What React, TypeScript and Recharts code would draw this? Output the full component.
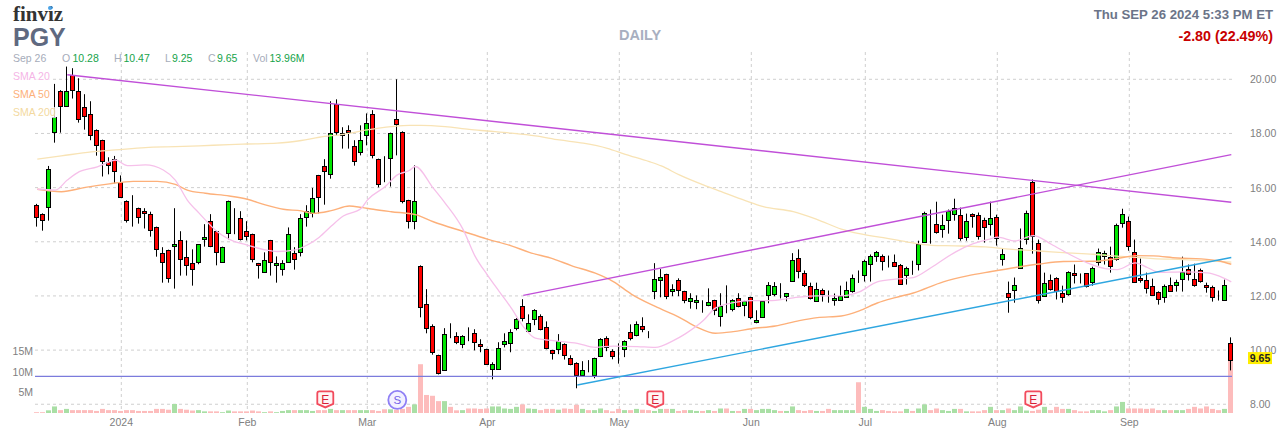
import { Bar, CartesianGrid, ComposedChart, Line, ReferenceDot, ReferenceLine, XAxis, YAxis } from 'recharts';

// OHLC, one value per trading day (Dec 11 2023 - Sep 26 2024)
const opens = [
  15.35, 15.02, 15.27, 18.04, 19.56, 19.00, 20.15, 19.56, 18.97, 18.71,
  18.12, 17.75, 16.94, 17.05, 16.20, 15.50, 15.02, 15.24, 15.13, 15.02,
  14.53, 13.57, 13.69, 13.85, 14.05, 13.43, 13.21, 13.24, 14.09, 14.76,
  14.39, 13.24, 14.31, 15.02, 14.87, 14.39, 14.28, 13.21, 12.87, 14.05,
  13.13, 12.98, 13.24, 13.57, 13.61, 14.90, 15.05, 16.45, 16.79, 16.49,
  19.08, 17.93, 18.12, 17.53, 17.30, 17.93, 18.71, 17.05, 16.68, 17.08,
  18.52, 18.04, 15.53, 14.76, 13.10, 11.69, 10.88, 9.81, 9.26, 10.67,
  10.51, 10.22, 10.52, 10.62, 10.22, 10.03, 9.28, 9.29, 10.22, 10.25,
  10.81, 11.62, 10.70, 11.14, 11.25, 10.84, 9.99, 10.03, 10.22, 9.70,
  9.51, 9.07, 9.40, 9.07, 9.77, 10.44, 9.96, 9.77, 10.03, 10.66,
  10.55, 10.88, 10.56, 12.17, 12.58, 12.80, 12.17, 12.58, 12.17, 11.80,
  11.77, 11.66, 11.66, 11.84, 11.25, 11.80, 11.51, 11.91, 11.66, 11.95,
  11.03, 11.21, 12.02, 12.06, 12.10, 11.99, 12.54, 13.39, 12.86, 12.38,
  11.83, 12.23, 11.94, 11.87, 11.87, 11.98, 12.20, 12.75, 12.79, 13.19,
  13.49, 13.49, 13.27, 13.27, 13.16, 12.79, 13.07, 13.19, 14.01, 14.65,
  14.67, 14.49, 14.82, 15.04, 15.00, 14.15, 15.04, 15.00, 14.82, 14.63,
  14.93, 13.38, 12.09, 12.23, 13.05, 14.12, 16.22, 13.97, 12.01, 12.60,
  12.68, 12.09, 12.09, 12.83, 12.74, 12.83, 12.53, 13.27, 13.49, 13.42,
  13.38, 14.71, 14.78, 13.64, 12.68, 12.60, 12.38, 12.16, 11.98, 12.42,
  12.42, 12.64, 13.01, 12.64, 12.97, 12.42, 12.34, 12.00, 11.87, 10.28,
];
const highs = [
  15.40, 15.05, 16.80, 19.83, 19.60, 20.47, 20.41, 20.04, 19.45, 19.19,
  18.15, 17.77, 17.12, 17.17, 16.45, 15.53, 15.72, 15.26, 15.24, 15.11,
  14.56, 13.80, 13.71, 15.24, 14.39, 14.05, 13.72, 13.91, 14.65, 15.02,
  14.41, 13.82, 15.52, 15.24, 15.13, 14.76, 14.30, 13.22, 13.61, 14.07,
  13.46, 13.32, 14.53, 13.80, 15.02, 15.35, 15.99, 16.47, 17.05, 19.19,
  19.26, 18.23, 18.30, 17.75, 18.30, 18.74, 18.86, 17.07, 17.16, 18.03,
  20.00, 18.08, 15.55, 16.82, 13.13, 12.25, 10.95, 9.83, 10.81, 10.99,
  10.66, 10.55, 10.84, 10.77, 10.40, 10.05, 9.55, 10.29, 10.62, 10.77,
  11.18, 11.88, 11.32, 11.51, 11.32, 11.06, 10.01, 10.59, 10.25, 9.81,
  9.55, 9.59, 9.63, 9.72, 10.44, 10.51, 10.03, 10.25, 10.36, 10.95,
  11.06, 11.21, 10.70, 13.21, 12.99, 12.82, 12.43, 12.65, 12.19, 12.10,
  12.02, 11.84, 12.28, 11.86, 12.10, 12.39, 11.88, 12.10, 11.82, 11.97,
  11.47, 11.84, 12.51, 12.51, 12.47, 12.11, 13.58, 13.72, 12.94, 12.49,
  12.49, 12.27, 12.20, 12.09, 12.38, 12.53, 12.79, 12.94, 13.34, 13.53,
  13.66, 13.53, 13.49, 13.53, 13.18, 13.08, 13.30, 14.04, 15.11, 15.19,
  15.48, 15.00, 15.19, 15.59, 15.26, 15.04, 15.05, 15.08, 14.89, 15.48,
  15.00, 13.75, 12.53, 12.68, 14.49, 15.15, 16.30, 14.08, 12.86, 12.79,
  12.69, 12.38, 12.91, 13.16, 12.83, 12.84, 13.08, 13.75, 13.67, 13.82,
  14.67, 15.22, 14.93, 14.08, 13.38, 12.86, 12.64, 12.17, 12.42, 12.68,
  12.60, 13.45, 13.16, 13.19, 13.01, 12.49, 12.38, 12.20, 12.60, 10.47,
];
const lows = [
  14.56, 14.41, 14.78, 17.66, 18.03, 19.00, 19.29, 18.40, 18.14, 17.75,
  17.18, 16.41, 16.49, 16.16, 15.62, 14.71, 14.56, 14.67, 14.49, 14.19,
  13.45, 12.49, 12.49, 12.27, 12.75, 12.75, 12.38, 13.17, 13.82, 13.80,
  13.13, 13.22, 14.09, 14.28, 14.05, 14.05, 13.24, 12.64, 12.86, 12.75,
  12.49, 12.75, 13.22, 12.97, 13.46, 14.56, 14.90, 15.05, 15.37, 16.33,
  17.93, 17.44, 17.44, 16.81, 17.19, 17.56, 17.08, 16.01, 16.20, 16.04,
  17.19, 15.42, 14.49, 14.46, 11.21, 10.62, 9.83, 9.10, 9.24, 10.44,
  10.22, 10.07, 10.33, 9.99, 9.92, 9.46, 8.92, 9.27, 10.10, 9.92,
  10.73, 11.06, 10.68, 10.92, 10.73, 10.03, 9.65, 9.85, 9.65, 9.44,
  8.59, 9.05, 9.18, 8.96, 9.74, 9.96, 9.66, 9.50, 9.74, 10.36,
  10.51, 10.66, 10.44, 11.88, 11.95, 11.88, 11.99, 11.99, 11.73, 11.53,
  11.51, 11.38, 11.62, 11.29, 10.87, 11.36, 11.43, 11.58, 11.25, 11.14,
  10.99, 11.19, 11.73, 11.99, 11.91, 11.80, 12.52, 12.65, 12.33, 11.87,
  11.79, 11.79, 11.75, 11.64, 11.83, 11.94, 12.12, 12.48, 12.53, 12.53,
  13.26, 12.94, 13.05, 13.08, 12.42, 12.42, 12.78, 12.94, 14.00, 13.93,
  14.30, 14.15, 14.30, 14.78, 14.04, 14.04, 14.52, 14.08, 13.97, 14.23,
  13.86, 13.12, 11.38, 11.75, 13.01, 13.90, 13.56, 11.72, 12.00, 12.20,
  11.87, 11.75, 12.01, 12.46, 12.46, 12.31, 12.38, 13.12, 13.16, 12.86,
  13.30, 14.52, 13.67, 12.49, 12.49, 12.09, 12.01, 11.68, 11.75, 12.16,
  12.16, 12.16, 12.57, 12.34, 12.49, 12.12, 11.79, 11.83, 11.86, 9.25,
];
const closes = [
  14.89, 14.79, 16.68, 18.60, 19.00, 19.56, 19.59, 18.52, 18.63, 17.93,
  17.56, 16.97, 16.82, 16.60, 15.64, 14.79, 15.02, 14.90, 15.05, 14.42,
  13.72, 13.24, 12.65, 13.91, 13.35, 13.13, 12.98, 13.91, 14.17, 13.83,
  13.61, 13.80, 15.50, 15.02, 14.09, 14.20, 13.35, 13.13, 13.32, 13.24,
  13.21, 13.21, 14.28, 13.35, 14.87, 15.13, 15.61, 15.64, 16.60, 18.01,
  18.04, 18.01, 18.04, 16.97, 17.75, 18.38, 17.19, 16.12, 16.68, 18.01,
  18.34, 15.50, 14.76, 15.50, 11.58, 10.81, 9.91, 9.13, 10.59, 10.67,
  10.29, 10.51, 10.52, 10.29, 10.14, 9.48, 9.48, 10.07, 10.33, 10.66,
  11.14, 11.18, 10.99, 11.47, 10.77, 10.07, 9.88, 10.33, 9.81, 9.48,
  9.05, 9.26, 9.40, 9.70, 10.40, 10.10, 9.77, 9.77, 10.33, 10.44,
  10.95, 10.77, 10.56, 12.62, 12.69, 11.99, 12.25, 12.21, 11.84, 11.91,
  11.84, 11.66, 11.77, 11.47, 11.62, 11.80, 11.84, 11.62, 11.80, 11.21,
  11.10, 11.80, 12.39, 12.36, 12.10, 12.10, 13.32, 12.91, 12.42, 11.94,
  12.27, 12.09, 11.94, 11.94, 12.01, 12.23, 12.68, 12.75, 13.30, 13.49,
  13.64, 13.30, 13.27, 13.12, 12.46, 13.05, 13.07, 13.93, 15.08, 14.65,
  14.38, 14.63, 15.15, 15.26, 14.15, 14.75, 14.97, 14.23, 14.56, 14.86,
  14.15, 13.56, 11.94, 12.42, 13.78, 15.08, 14.23, 11.87, 12.49, 12.27,
  12.20, 11.94, 12.90, 12.75, 12.74, 12.35, 13.05, 13.64, 13.60, 13.08,
  14.63, 15.04, 13.86, 12.53, 12.60, 12.31, 12.05, 11.90, 12.38, 12.20,
  12.53, 12.90, 12.83, 12.42, 12.57, 12.35, 11.98, 12.00, 12.42, 9.65,
];
// volume in millions
const volumes = [
  0.2, 0.2, 0.65, 1.6, 0.7, 1.0, 0.7, 0.7, 0.7, 0.7,
  0.5, 1.0, 0.7, 0.7, 0.5, 0.7, 0.7, 0.5, 0.5, 0.5,
  1.0, 1.0, 0.8, 2.2, 1.0, 0.8, 0.6, 0.7, 0.4, 0.4,
  0.4, 0.2, 0.6, 0.4, 0.4, 0.4, 0.6, 0.4, 0.2, 0.4,
  0.2, 0.5, 0.7, 0.7, 0.7, 0.7, 0.5, 0.7, 0.7, 1.0,
  0.7, 0.7, 0.7, 0.7, 0.7, 0.7, 0.7, 0.5, 0.9, 0.9,
  0.8, 1.0, 1.5, 2.1, 11.9, 4.4, 4.2, 2.9, 2.9, 1.5,
  0.65, 0.7, 1.1, 1.1, 1.0, 1.1, 1.6, 1.6, 1.1, 1.0,
  1.5, 2.1, 1.1, 1.0, 0.7, 1.0, 1.0, 0.8, 1.1, 1.0,
  2.0, 1.0, 0.7, 0.7, 1.1, 0.7, 0.4, 1.0, 0.7, 0.7,
  1.0, 0.8, 0.7, 0.5, 1.0, 1.0, 1.0, 0.5, 0.7, 0.7,
  0.5, 0.5, 0.7, 0.5, 1.1, 1.1, 0.5, 0.5, 1.0, 1.0,
  0.7, 1.0, 1.0, 0.7, 0.5, 0.5, 1.6, 0.7, 0.5, 0.7,
  0.5, 0.5, 1.0, 0.7, 0.7, 0.7, 0.7, 7.5, 1.5, 1.0,
  0.5, 0.7, 0.5, 0.4, 0.4, 1.0, 0.5, 1.1, 2.1, 0.7,
  1.1, 0.7, 0.5, 1.0, 1.0, 0.4, 0.4, 0.4, 0.7, 1.5,
  0.7, 0.7, 1.1, 0.7, 1.6, 0.6, 0.5, 0.8, 1.5, 0.7,
  1.5, 1.0, 1.0, 0.7, 0.4, 0.4, 0.7, 0.7, 0.4, 0.7,
  1.6, 2.7, 1.1, 1.1, 1.1, 1.0, 1.1, 0.7, 0.7, 0.7,
  0.7, 0.7, 1.0, 1.5, 1.1, 1.6, 1.0, 0.7, 1.0, 13.96,
];

// moving averages and drawn lines as [day index, price], read at the visible bends
const sma20: [number, number][] = [
  [0, 15.94], [3, 15.91], [5, 16.28], [7, 16.59], [10, 16.77], [12, 16.95], [13, 17.02], [15, 16.81],
  [18, 16.84], [21, 16.65], [23, 16.28], [25, 15.54], [27, 15.05], [30, 14.37], [32, 14.09], [35, 13.88],
  [38, 13.70], [40, 13.64], [43, 13.70], [45, 13.88], [47, 14.17], [49, 14.58], [51, 14.95], [54, 15.24],
  [55, 15.54], [58, 16.04], [60, 16.47], [62, 16.63], [63, 16.78], [66, 15.98], [68, 15.42], [71, 14.44],
  [73, 13.45], [75, 12.78], [77, 12.16], [79, 11.55], [81, 10.87], [83, 10.44], [86, 10.35], [90, 10.25],
  [93, 10.10], [96, 10.15], [100, 10.13], [103, 10.10], [106, 10.35], [108, 10.60], [111, 11.09], [113, 11.55],
  [116, 11.75], [119, 11.83], [122, 11.83], [126, 11.93], [130, 12.00], [134, 12.00], [137, 12.15], [140, 12.52],
  [143, 12.62], [146, 12.68], [149, 13.05], [153, 13.62], [156, 13.93], [159, 14.12], [160, 14.17], [163, 14.03],
  [166, 14.23], [169, 13.91], [172, 13.54], [175, 13.22], [178, 13.01], [180, 12.97], [183, 13.22], [185, 13.05],
  [187, 12.87], [191, 12.89], [195, 12.85], [197, 12.73], [199, 12.52],
];
const sma50: [number, number][] = [
  [0, 15.94], [4, 15.85], [8, 16.01], [12, 16.14], [16, 16.23], [20, 16.23], [23, 16.12], [25, 15.91],
  [28, 15.79], [32, 15.69], [35, 15.57], [38, 15.36], [41, 15.20], [44, 15.14], [46, 15.05], [49, 15.15],
  [52, 15.32], [54, 15.27], [56, 15.20], [59, 15.11], [63, 15.00], [66, 14.74], [71, 14.38], [75, 14.10],
  [79, 13.85], [82, 13.61], [86, 13.37], [89, 13.12], [93, 12.84], [96, 12.53], [99, 12.07], [103, 11.61],
  [107, 11.21], [110, 10.84], [113, 10.62], [116, 10.68], [119, 10.79], [123, 10.89], [127, 11.09], [130, 11.20],
  [134, 11.26], [137, 11.45], [140, 11.74], [143, 11.94], [146, 12.11], [151, 12.52], [155, 12.74], [159, 12.90],
  [163, 13.05], [167, 13.18], [171, 13.27], [176, 13.28], [180, 13.38], [183, 13.49], [186, 13.48], [190, 13.40],
  [194, 13.37], [197, 13.29], [199, 13.17],
];
const sma200: [number, number][] = [
  [0, 17.05], [4, 17.17], [9, 17.32], [13, 17.39], [18, 17.48], [23, 17.51], [27, 17.54], [32, 17.59],
  [35, 17.61], [40, 17.64], [44, 17.74], [47, 17.86], [51, 17.97], [55, 18.13], [59, 18.25], [62, 18.30],
  [64, 18.30], [68, 18.25], [72, 18.15], [75, 18.09], [79, 18.01], [83, 17.91], [87, 17.76], [91, 17.64],
  [95, 17.45], [98, 17.23], [102, 16.96], [104, 16.80], [107, 16.47], [111, 16.10], [114, 15.85], [118, 15.52],
  [121, 15.30], [126, 15.11], [130, 14.82], [134, 14.47], [137, 14.30], [141, 14.15], [145, 13.99], [149, 13.87],
  [153, 13.85], [158, 13.81], [163, 13.71], [167, 13.66], [171, 13.60], [176, 13.54], [180, 13.47], [186, 13.38],
  [191, 13.34], [195, 13.30], [199, 13.25],
];
const resistanceLine: [number, number][] = [[5, 20.17], [199, 15.46]];
const channelLine: [number, number][] = [[81, 12.02], [199, 17.22]];
const supportLine: [number, number][] = [[90, 8.71], [199, 13.42]];
const floorPrice = 9.03;

const monthTicks = [14, 35, 55, 75, 97, 119, 138, 160, 182];
const monthLabels = ['2024', 'Feb', 'Mar', 'Apr', 'May', 'Jun', 'Jul', 'Aug', 'Sep'];
const priceTicks = [8, 10, 12, 14, 16, 18, 20];
const volumeTicks = [5, 10, 15];
const earningsDays = [48, 103, 166];
const splitDays = [60];
const lastClose = closes[closes.length - 1];

const data: any[] = opens.map((open, i) => ({
  i,
  open,
  high: highs[i],
  low: lows[i],
  close: closes[i],
  range: [lows[i], highs[i]],
  volume: volumes[i],
}));
const addPoints = (key: string, points: [number, number][]) => {
  points.forEach(([i, v]) => {
    data[i][key] = v;
  });
};
addPoints('sma20', sma20);
addPoints('sma50', sma50);
addPoints('sma200', sma200);
addPoints('resistance', resistanceLine);
addPoints('channel', channelLine);
addPoints('support', supportLine);

const FONT = '"Liberation Sans", Arial, sans-serif';
const AXIS_GRAY = '#808080';
const DAY_DOMAIN = [-0.383, 199.117];

function Candle(props: any) {
  const { x, y, width, height, payload } = props;
  if (!payload || payload.high === undefined) return null;
  const top = Math.min(y, y + height);
  const span = Math.abs(height);
  const perUnit = span / (payload.high - payload.low);
  // snap to the pixel grid so the 1px outline stays crisp
  const bodyTop = Math.round(top + (payload.high - Math.max(payload.open, payload.close)) * perUnit) + 0.5;
  const bodyH = Math.round(Math.abs(payload.open - payload.close) * perUnit);
  const cx = Math.floor(x + width / 2) + 0.5;
  const fill = payload.close > payload.open ? '#00e600' : '#ff0000';
  return (
    <g>
      <line x1={cx} x2={cx} y1={top} y2={top + span} stroke="#000" strokeWidth={1} />
      <rect x={cx - 2} y={bodyTop} width={4} height={bodyH} fill={fill} stroke="#000" strokeWidth={1} />
    </g>
  );
}

function VolumeBar(props: any) {
  const { x, y, width, height, payload } = props;
  if (!payload || payload.volume === undefined) return null;
  return <rect x={Math.floor(x + width / 2) - 2} y={y} width={5} height={height} fill={payload.close > payload.open ? '#a9dfa5' : '#fdbcbc'} />;
}

function PriceTick(props: any) {
  const { x, y, payload } = props;
  if (payload.value === lastClose) {
    return (
      <g>
        <rect x={x + 8} y={y - 7.5} width={24} height={12} fill="#ffee00" />
        <text x={x + 20} y={y + 2.5} textAnchor="middle" fontSize={10.5} fontWeight="bold" fontFamily={FONT} fill="#222">
          {payload.value.toFixed(2)}
        </text>
      </g>
    );
  }
  return (
    <text x={x + 10} y={y + 4} fontSize={10.5} fontFamily={FONT} fill={AXIS_GRAY}>
      {payload.value.toFixed(2)}
    </text>
  );
}

function EarningsBadge(props: any) {
  const { cx, cy } = props;
  return (
    <g>
      <path
        d={`M${cx - 8} ${cy - 6.5} q0 -2 2 -2 h12 q2 0 2 2 v10.5 l-8 3.5 l-8 -3.5 z`}
        fill="#fff4f4"
        stroke="#f24a5c"
        strokeWidth={1.8}
      />
      <text x={cx} y={cy + 3.8} textAnchor="middle" fontSize={12} fontFamily={FONT} fill="#d81e36">E</text>
    </g>
  );
}

function SplitBadge(props: any) {
  const { cx, cy } = props;
  return (
    <g>
      <circle cx={cx} cy={cy} r={9} fill="#f3f0ff" stroke="#8f7ff5" strokeWidth={1.8} />
      <text x={cx} y={cy + 3.8} textAnchor="middle" fontSize={11.5} fontFamily={FONT} fill="#7362e8">S</text>
    </g>
  );
}

const abs = (left: number, top: number, extraStyle: any = {}): any => ({
  position: 'absolute',
  left,
  top,
  lineHeight: 1,
  whiteSpace: 'nowrap',
  ...extraStyle,
});

const LABEL_GRAY = '#a6acba';
const VALUE_GREEN = '#16a34a';
const quoteRow: [number, string, string][] = [
  [13, 'Sep 26', LABEL_GRAY],
  [62, 'O', LABEL_GRAY],
  [72.5, '10.28', VALUE_GREEN],
  [114, 'H', LABEL_GRAY],
  [123.5, '10.47', VALUE_GREEN],
  [165, 'L', LABEL_GRAY],
  [172, '9.25', VALUE_GREEN],
  [208, 'C', LABEL_GRAY],
  [217, '9.65', VALUE_GREEN],
  [253, 'Vol', LABEL_GRAY],
  [269.5, '13.96M', VALUE_GREEN],
];

export default function App() {
  return (
    <div style={{ position: 'absolute', left: 0, top: 0, width: 1287, height: 442, fontFamily: FONT, background: '#fff', overflow: 'hidden' }}>
      <ComposedChart width={1287} height={442} data={data} margin={{ top: 52, right: 0, bottom: 0, left: 0 }}>
        <CartesianGrid yAxisId="price" stroke="#cfcfcf" strokeDasharray="3 3" horizontalValues={priceTicks} verticalValues={monthTicks} />
        <XAxis
          dataKey="i"
          type="number"
          domain={DAY_DOMAIN}
          ticks={monthTicks}
          tickFormatter={(v: number) => monthLabels[monthTicks.indexOf(v)]}
          axisLine={false}
          tickLine={false}
          height={29}
          interval={0}
          tick={{ fontSize: 10.5, fill: AXIS_GRAY, fontFamily: FONT }}
          tickMargin={0}
        />
        <XAxis xAxisId="volumeDays" dataKey="i" type="number" domain={DAY_DOMAIN} ticks={monthTicks} hide />
        <YAxis
          yAxisId="volume"
          orientation="left"
          width={35}
          domain={[0, 88.05]}
          ticks={volumeTicks}
          tickFormatter={(v: number) => `${v}M`}
          axisLine={false}
          tickLine={false}
          tickSize={0}
          tick={{ fontSize: 10.5, fill: AXIS_GRAY, fontFamily: FONT }}
        />
        <YAxis
          yAxisId="price"
          orientation="right"
          width={55}
          domain={[7.677, 21.008]}
          ticks={[...priceTicks, lastClose]}
          axisLine={false}
          tickLine={false}
          interval={0}
          tick={<PriceTick />}
        />
        <Bar xAxisId="volumeDays" yAxisId="volume" dataKey="volume" barSize={5} shape={<VolumeBar />} isAnimationActive={false} />
        <ReferenceLine yAxisId="price" y={floorPrice} stroke="#7b7bdc" strokeWidth={1.2} />
        <Line yAxisId="price" dataKey="sma200" type="monotone" stroke="#f8e3b5" strokeWidth={1.3} dot={false} connectNulls isAnimationActive={false} />
        <Line yAxisId="price" dataKey="sma50" type="monotone" stroke="#fdb07a" strokeWidth={1.4} dot={false} connectNulls isAnimationActive={false} />
        <Line yAxisId="price" dataKey="sma20" type="monotone" stroke="#f6c0ea" strokeWidth={1.3} dot={false} connectNulls isAnimationActive={false} />
        <Line yAxisId="price" dataKey="resistance" stroke="#c04fd8" strokeWidth={1.4} dot={false} connectNulls isAnimationActive={false} />
        <Line yAxisId="price" dataKey="channel" stroke="#c04fd8" strokeWidth={1.4} dot={false} connectNulls isAnimationActive={false} />
        <Line yAxisId="price" dataKey="support" stroke="#2ea6e0" strokeWidth={1.4} dot={false} connectNulls isAnimationActive={false} />
        <Bar yAxisId="price" dataKey="range" barSize={5} shape={<Candle />} isAnimationActive={false} />
        {earningsDays.map((d) => (
          <ReferenceDot key={d} yAxisId="price" x={d} y={8.16} r={8} shape={<EarningsBadge />} />
        ))}
        {splitDays.map((d) => (
          <ReferenceDot key={d} yAxisId="price" x={d} y={8.16} r={9} shape={<SplitBadge />} />
        ))}
      </ComposedChart>

      <div style={abs(13, 4, { fontFamily: '"Liberation Serif", serif', fontWeight: 'bold', fontSize: 21, color: '#333' })}>finviz</div>
      <div style={{ position: 'absolute', left: 47.5, top: 5.5, width: 4, height: 4, borderRadius: 2, background: '#4aa3e8' }} />
      <div style={abs(13, 25, { fontWeight: 'bold', fontSize: 25, color: '#5f6980' })}>PGY</div>
      <div style={abs(619, 28, { fontWeight: 'bold', fontSize: 14.5, color: '#a8afc0' })}>DAILY</div>
      <div style={abs(0, 8, { left: 'auto', right: 14, fontWeight: 'bold', fontSize: 13.2, color: '#6b7488' })}>Thu SEP 26 2024 5:33 PM ET</div>
      <div style={abs(0, 29, { left: 'auto', right: 14, fontWeight: 'bold', fontSize: 14.3, color: '#c80000' })}>-2.80 (22.49%)</div>
      {quoteRow.map(([left, text, color]) => (
        <div key={left} style={abs(left, 53, { fontSize: 10.5, color })}>{text}</div>
      ))}
      <div style={abs(13, 71, { fontSize: 10.5, color: '#f5b5e6', background: 'rgba(255,255,255,0.75)' })}>SMA 20</div>
      <div style={abs(13, 89, { fontSize: 10.5, color: '#fdb07a', background: 'rgba(255,255,255,0.75)' })}>SMA 50</div>
      <div style={abs(13, 107, { fontSize: 10.5, color: '#f3d9a0', background: 'rgba(255,255,255,0.75)' })}>SMA 200</div>
    </div>
  );
}
